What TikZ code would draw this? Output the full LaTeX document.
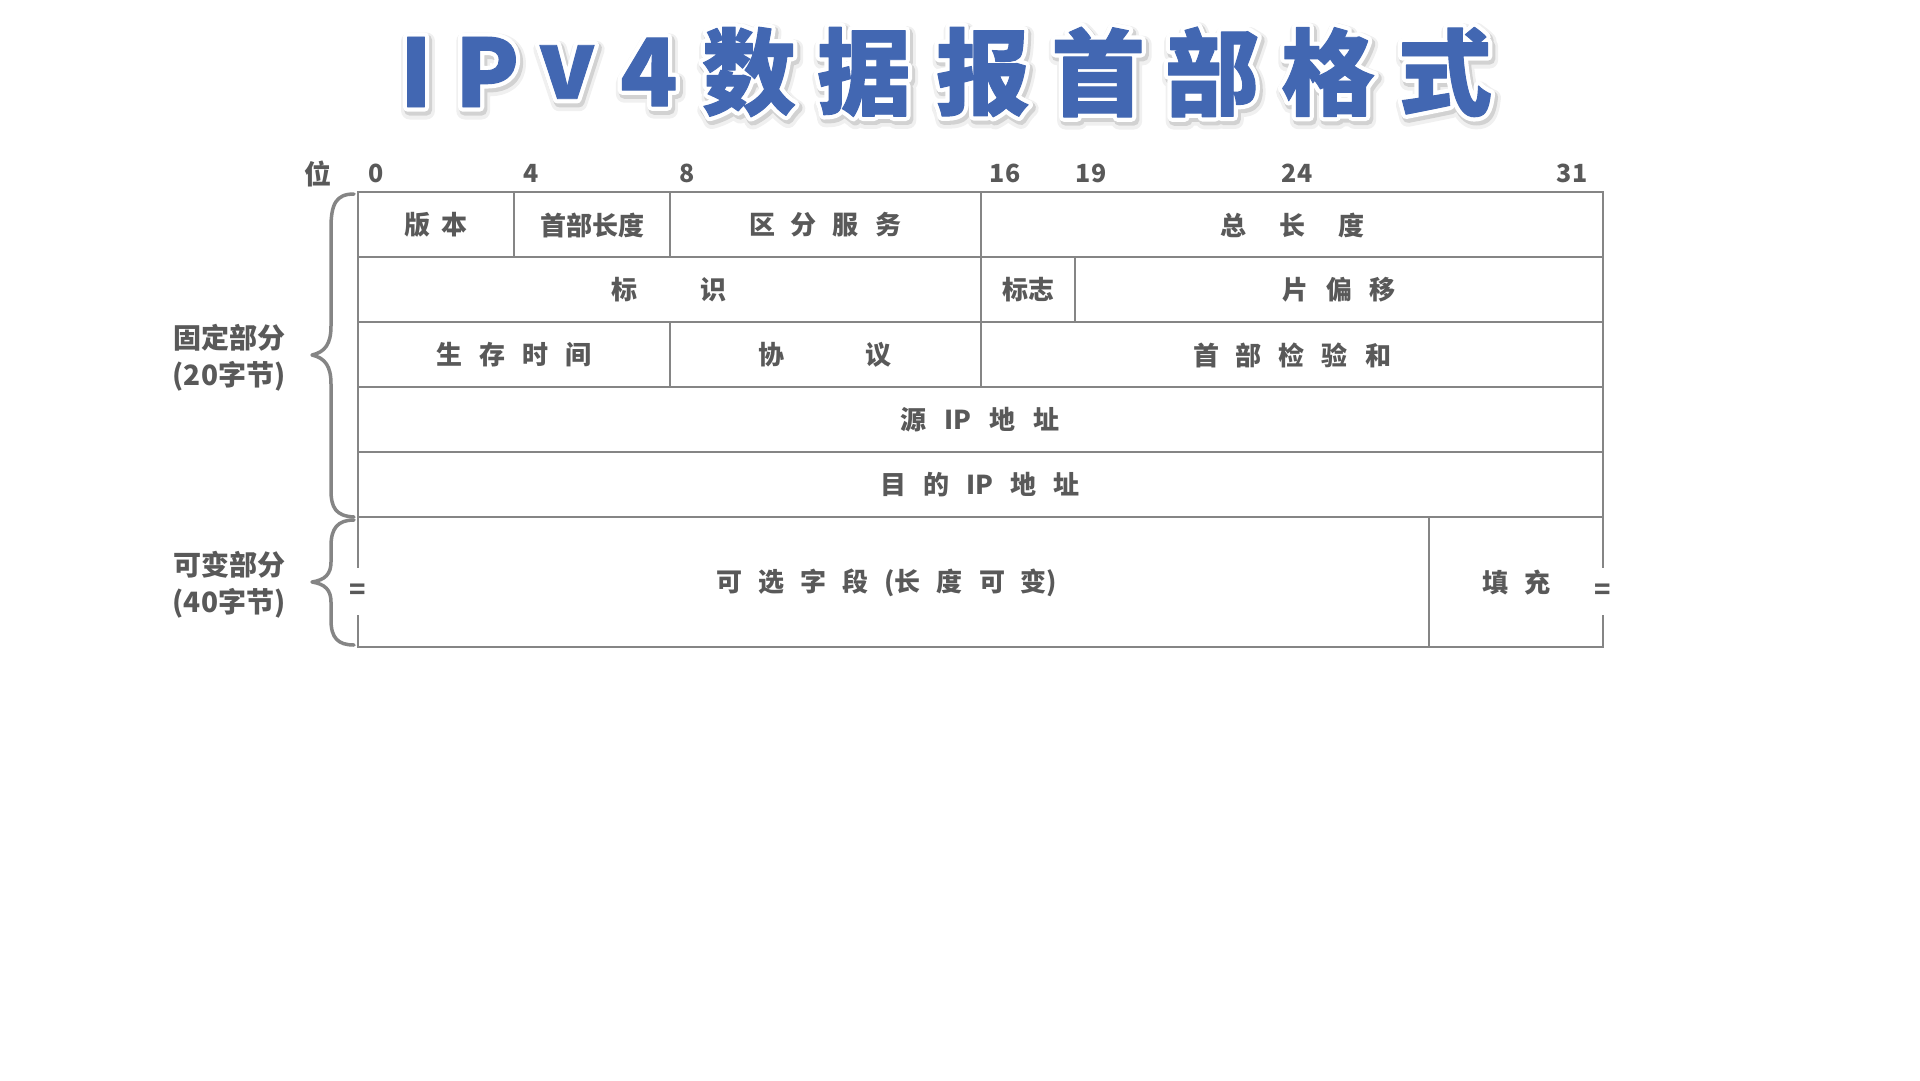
\documentclass[tikz,border=0pt]{standalone}
\usepackage{fontspec}
\setmainfont{Noto Sans CJK SC}
\newfontfamily\ttlblue{Noto Sans CJK SC}[BoldFeatures={FakeBold=1}]
\newfontfamily\ttlout{Noto Sans CJK SC}[BoldFeatures={FakeBold=10}]
\newfontfamily\ttlshdA{Noto Sans CJK SC}[BoldFeatures={FakeBold=12}]
\newfontfamily\ttlshdB{Noto Sans CJK SC}[BoldFeatures={FakeBold=18}]
\definecolor{txt}{HTML}{595959}
\definecolor{ln}{HTML}{858585}
\definecolor{ttl}{RGB}{66,103,178}
\newcommand\zg[1][16]{\hspace{#1pt}}
\tikzset{
  cell/.style={font=\fontsize{26}{30}\selectfont\bfseries, text=txt, inner sep=0pt},
  bitlbl/.style={font=\fontsize{25}{30}\selectfont\bfseries, text=txt, inner sep=0pt},
  side/.style={font=\fontsize{28}{32}\selectfont\bfseries, text=txt, inner sep=0pt},
  eqsign/.style={font=\fontsize{27}{30}\selectfont\bfseries, text=txt, inner sep=0pt},
  tline/.style={draw=ln, line width=2pt},
  bracepath/.style={draw=ln, line width=3.5pt, line cap=round},
  ttlfont/.style={font=\ttlblue\fontsize{94}{100}\selectfont\bfseries, inner sep=0pt, text=ttl},
  ttlwhite/.style={font=\ttlout\fontsize{94}{100}\selectfont\bfseries, inner sep=0pt, text=white},
  ttlshadowA/.style={font=\ttlshdA\fontsize{94}{100}\selectfont\bfseries, inner sep=0pt, text=black, opacity=0.12},
  ttlshadowB/.style={font=\ttlshdB\fontsize{94}{100}\selectfont\bfseries, inner sep=0pt, text=black, opacity=0.06},
}
\begin{document}
\begin{tikzpicture}[x=1pt,y=-1pt,line join=round]
\fill[white] (0,0) rectangle (1920,1080);
\useasboundingbox (0,0) rectangle (1920,1080);

% ---- title ----
\def\titlechars{I/416,P/487,v/567,4/649,数/749,据/864,报/983,首/1098,部/1212,格/1328,式/1445}
\foreach \ch/\xx [count=\k] in \titlechars
  \node[ttlshadowB] (tsb\k) at (\xx+2,76) {\ch};
\foreach \ch/\xx [count=\k] in \titlechars
  \node[ttlshadowA] (tsa\k) at (\xx+2,75) {\ch};
\foreach \ch/\xx [count=\k] in \titlechars
  \node[ttlwhite] (tw\k) at (\xx,72) {\ch};
\foreach \ch/\xx [count=\k] in \titlechars
  \node[ttlfont] (t\k) at (\xx,72) {\ch};

% ---- bit labels ----
\node[bitlbl, font=\fontsize{27}{30}\selectfont\bfseries] (wei) at (318,174) {位};
\node[bitlbl] (b0) at (376,173) {0};
\node[bitlbl] (b4) at (531,173) {4};
\node[bitlbl] (b8) at (687,173) {8};
\node[bitlbl] (b16) at (1005,173) {16};
\node[bitlbl] (b19) at (1091,173) {19};
\node[bitlbl] (b24) at (1297,173) {24};
\node[bitlbl] (b31) at (1572,173) {31};

% ---- grid lines ----
\foreach \yy in {192,257,322,387,452,517,646.5}
  \draw[tline] (357.6,\yy) -- (1602.9,\yy);
\draw[tline] (357.6,191) -- (357.6,568);
\draw[tline] (357.6,615) -- (357.6,647.5);
\draw[tline] (1602.9,191) -- (1602.9,568);
\draw[tline] (1602.9,615) -- (1602.9,647.5);
\draw[tline] (514.3,192) -- (514.3,257);
\draw[tline] (669.8,192) -- (669.8,257);
\draw[tline] (980.8,192) -- (980.8,387);
\draw[tline] (1075.1,257) -- (1075.1,322);
\draw[tline] (669.8,322) -- (669.8,387);
\draw[tline] (1429,517) -- (1429,646.5);

% ---- cell texts ----
\node[cell] (ver) at (436,225) {版\zg[12]本};
\node[cell] (ihl) at (592,225) {首部长度};
\node[cell] (tos) at (825,225) {区\zg 分\zg 服\zg 务};
\node[cell] (tot) at (1292,225) {总\zg[33]长\zg[33]度};
\node[cell] (idn) at (669,290) {标\zg[63]识};
\node[cell] (flg) at (1028,290) {标志};
\node[cell] (frg) at (1339,290) {片\zg[18]偏\zg[18]移};
\node[cell] (ttl) at (514,355) {生\zg[17]存\zg[17]时\zg[17]间};
\node[cell] (pro) at (825,355) {协\zg[81]议};
\node[cell] (chk) at (1292,355) {首\zg[17]部\zg[17]检\zg[17]验\zg[17]和};
\node[cell] (src) at (980,420) {源\zg[18]IP\zg[18]地\zg[18]址};
\node[cell] (dst) at (980,485) {目\zg[17]的\zg[17]IP\zg[17]地\zg[17]址};
\node[cell] (opt) at (887,583) {可\zg[16]选\zg[16]字\zg[16]段\zg[16](长\zg[16]度\zg[16]可\zg[16]变)};
\node[cell] (pad) at (1516,583) {填\zg 充};
\node[eqsign] (eqL) at (357.6,592) {=};
\node[eqsign] (eqR) at (1602.9,592) {=};

% ---- braces ----
\draw[bracepath] (354,194) .. controls (336,194) and (331,204) .. (331,228)
  -- (331,326) .. controls (331,344) and (325,352) .. (312,355)
  .. controls (325,358) and (331,366) .. (331,384)
  -- (331,490) .. controls (331,508) and (336,516) .. (354,517);
\draw[bracepath] (354,520) .. controls (338,520) and (331,528) .. (331,546)
  -- (331,562) .. controls (331,574) and (325,580) .. (312,582)
  .. controls (325,584) and (331,590) .. (331,602)
  -- (331,620) .. controls (331,638) and (338,645) .. (354,645);

% ---- side labels ----
\node[side] (fx1) at (229,338) {固定部分};
\node[side] (fx2) at (229,376) {(20字节)};
\node[side] (vr1) at (229,565) {可变部分};
\node[side] (vr2) at (229,603) {(40字节)};
\end{tikzpicture}
\end{document}
